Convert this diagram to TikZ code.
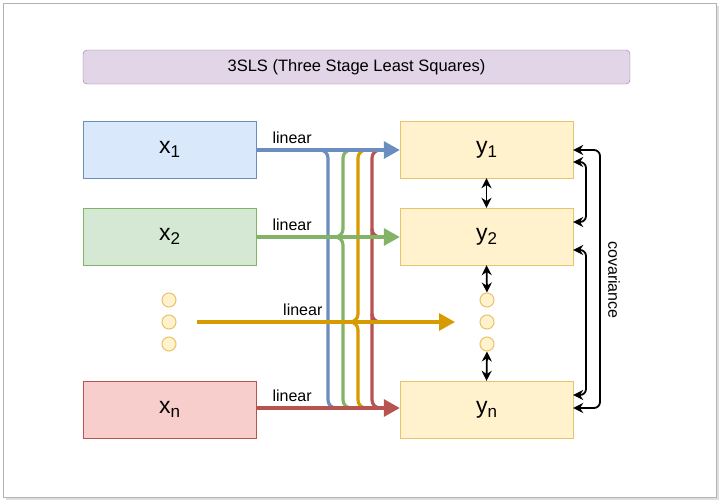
\documentclass[tikz,border=0pt]{standalone}
\usepackage{fontspec}
\setmainfont{Liberation Sans}
\usetikzlibrary{arrows.meta}
\newcommand{\sbs}[1]{\raisebox{-0.35ex}{\fontsize{17}{19}\selectfont #1}}
\begin{document}
\begin{tikzpicture}[x=1pt,y=-1pt,
  xbox/.style={minimum width=173pt,minimum height=57pt,inner sep=0pt,font=\fontsize{23}{25}\selectfont},
  ybox/.style={draw=dotline,fill=yellowbg,minimum width=173pt,minimum height=57pt,inner sep=0pt,font=\fontsize{23}{25}\selectfont},
  dot/.style={circle,draw=dotline,line width=1pt,fill=yellowbg,minimum size=14pt,inner sep=0pt},
  conn/.style={line width=3.2pt,rounded corners=8pt},
  tip/.style={-{Triangle[length=16pt,width=17pt]}},
  lab/.style={font=\fontsize{16}{18}\selectfont},
  blk/.style={line width=1.8pt,{Stealth[length=10pt,width=10pt]}-{Stealth[length=10pt,width=10pt]},rounded corners=6pt}]
\definecolor{yellowbg}{HTML}{FFF2CC}
\definecolor{dotline}{HTML}{E8C36A}
\definecolor{cb}{HTML}{6C8EBF}\definecolor{cbf}{HTML}{DAE8FC}
\definecolor{cg}{HTML}{82B366}\definecolor{cgf}{HTML}{D5E8D4}
\definecolor{co}{HTML}{D79B00}
\definecolor{cr}{HTML}{B85450}\definecolor{crf}{HTML}{F8CECC}
\definecolor{pf}{HTML}{E1D5E7}\definecolor{ps}{HTML}{9673A6}
\fill[gray!25] (6,6) rectangle (719,500);
\draw[gray!60,fill=white] (3,3) rectangle (716,497);
\useasboundingbox (0,0) rectangle (720,501);
\node[draw=ps,fill=pf,rounded corners=4pt,minimum width=547pt,minimum height=34pt,font=\fontsize{16.5}{18}\selectfont] (t) at (356.5,67) {3SLS (Three Stage Least Squares)};
\node[xbox,draw=cb,fill=cbf] (x1) at (169.5,149.5) {x\sbs{1}};
\node[xbox,draw=cg,fill=cgf] (x2) at (169.5,236.5) {x\sbs{2}};
\node[xbox,draw=cr,fill=crf] (xn) at (169.5,409.5) {x\sbs{n}};
\node[ybox] (y1) at (486.5,149.5) {y\sbs{1}};
\node[ybox] (y2) at (486.5,236.5) {y\sbs{2}};
\node[ybox] (yn) at (486.5,409.5) {y\sbs{n}};
\foreach \y/\n in {300/a,322/b,344/c}{
  \node[dot] (l\n) at (169,\y) {};
  \node[dot] (r\n) at (487,\y) {};}
\coordinate (os) at (197,322);
\coordinate (oe) at (455,322);
% branches
\draw[conn,cb] (315,150) -| (328,408) -- (385,408);
\draw[conn,cg] (385,150) -| (343,237) -- (335,237);
\draw[conn,cg] (335,237) -| (343,408) -- (385,408);
\draw[conn,co] (385,150) -| (358,322) -- (350,322);
\draw[conn,co] (350,322) -| (358,408) -- (385,408);
\draw[conn,cr] (385,150) -| (372,408) -- (385,408);
\draw[conn,cr] (372,230) -- ++(0,7) -- (385,237);
\draw[conn,cr] (372,315) -- ++(0,7) -- (385,322);
% main arrows
\draw[line width=3.2pt,cb,tip] (x1.east|-0,150) -- (y1.west|-0,150) node[pos=0.25,above=1pt,black,lab] {linear};
\draw[line width=3.2pt,cg,tip] (x2.east|-0,237) -- (y2.west|-0,237) node[pos=0.25,above=1pt,black,lab] {linear};
\draw[line width=3.2pt,co,tip] (os) -- (oe) node[pos=0.41,above=1pt,black,lab] {linear};
\draw[line width=3.2pt,cr,tip] (xn.east|-0,408) -- (yn.west|-0,408) node[pos=0.25,above=1pt,black,lab] {linear};
% black
\draw[blk] (y1.south) -- (y2.north);
\draw[blk] (y2.south) -- (ra.north);
\draw[blk] (rc.south) -- (yn.north);
\draw[blk] (y1.east|-0,150) -- (600,150) -- (600,408) -- (yn.east|-0,408);
\draw[blk] (y1.east|-0,162) -- (586,162) -- (586,222) -- (y2.east|-0,222);
\draw[blk] (y2.east|-0,250) -- (586,250) -- (586,395) -- (yn.east|-0,395);
\node[rotate=-90,lab] at (614,280) {covariance};
\end{tikzpicture}
\end{document}
